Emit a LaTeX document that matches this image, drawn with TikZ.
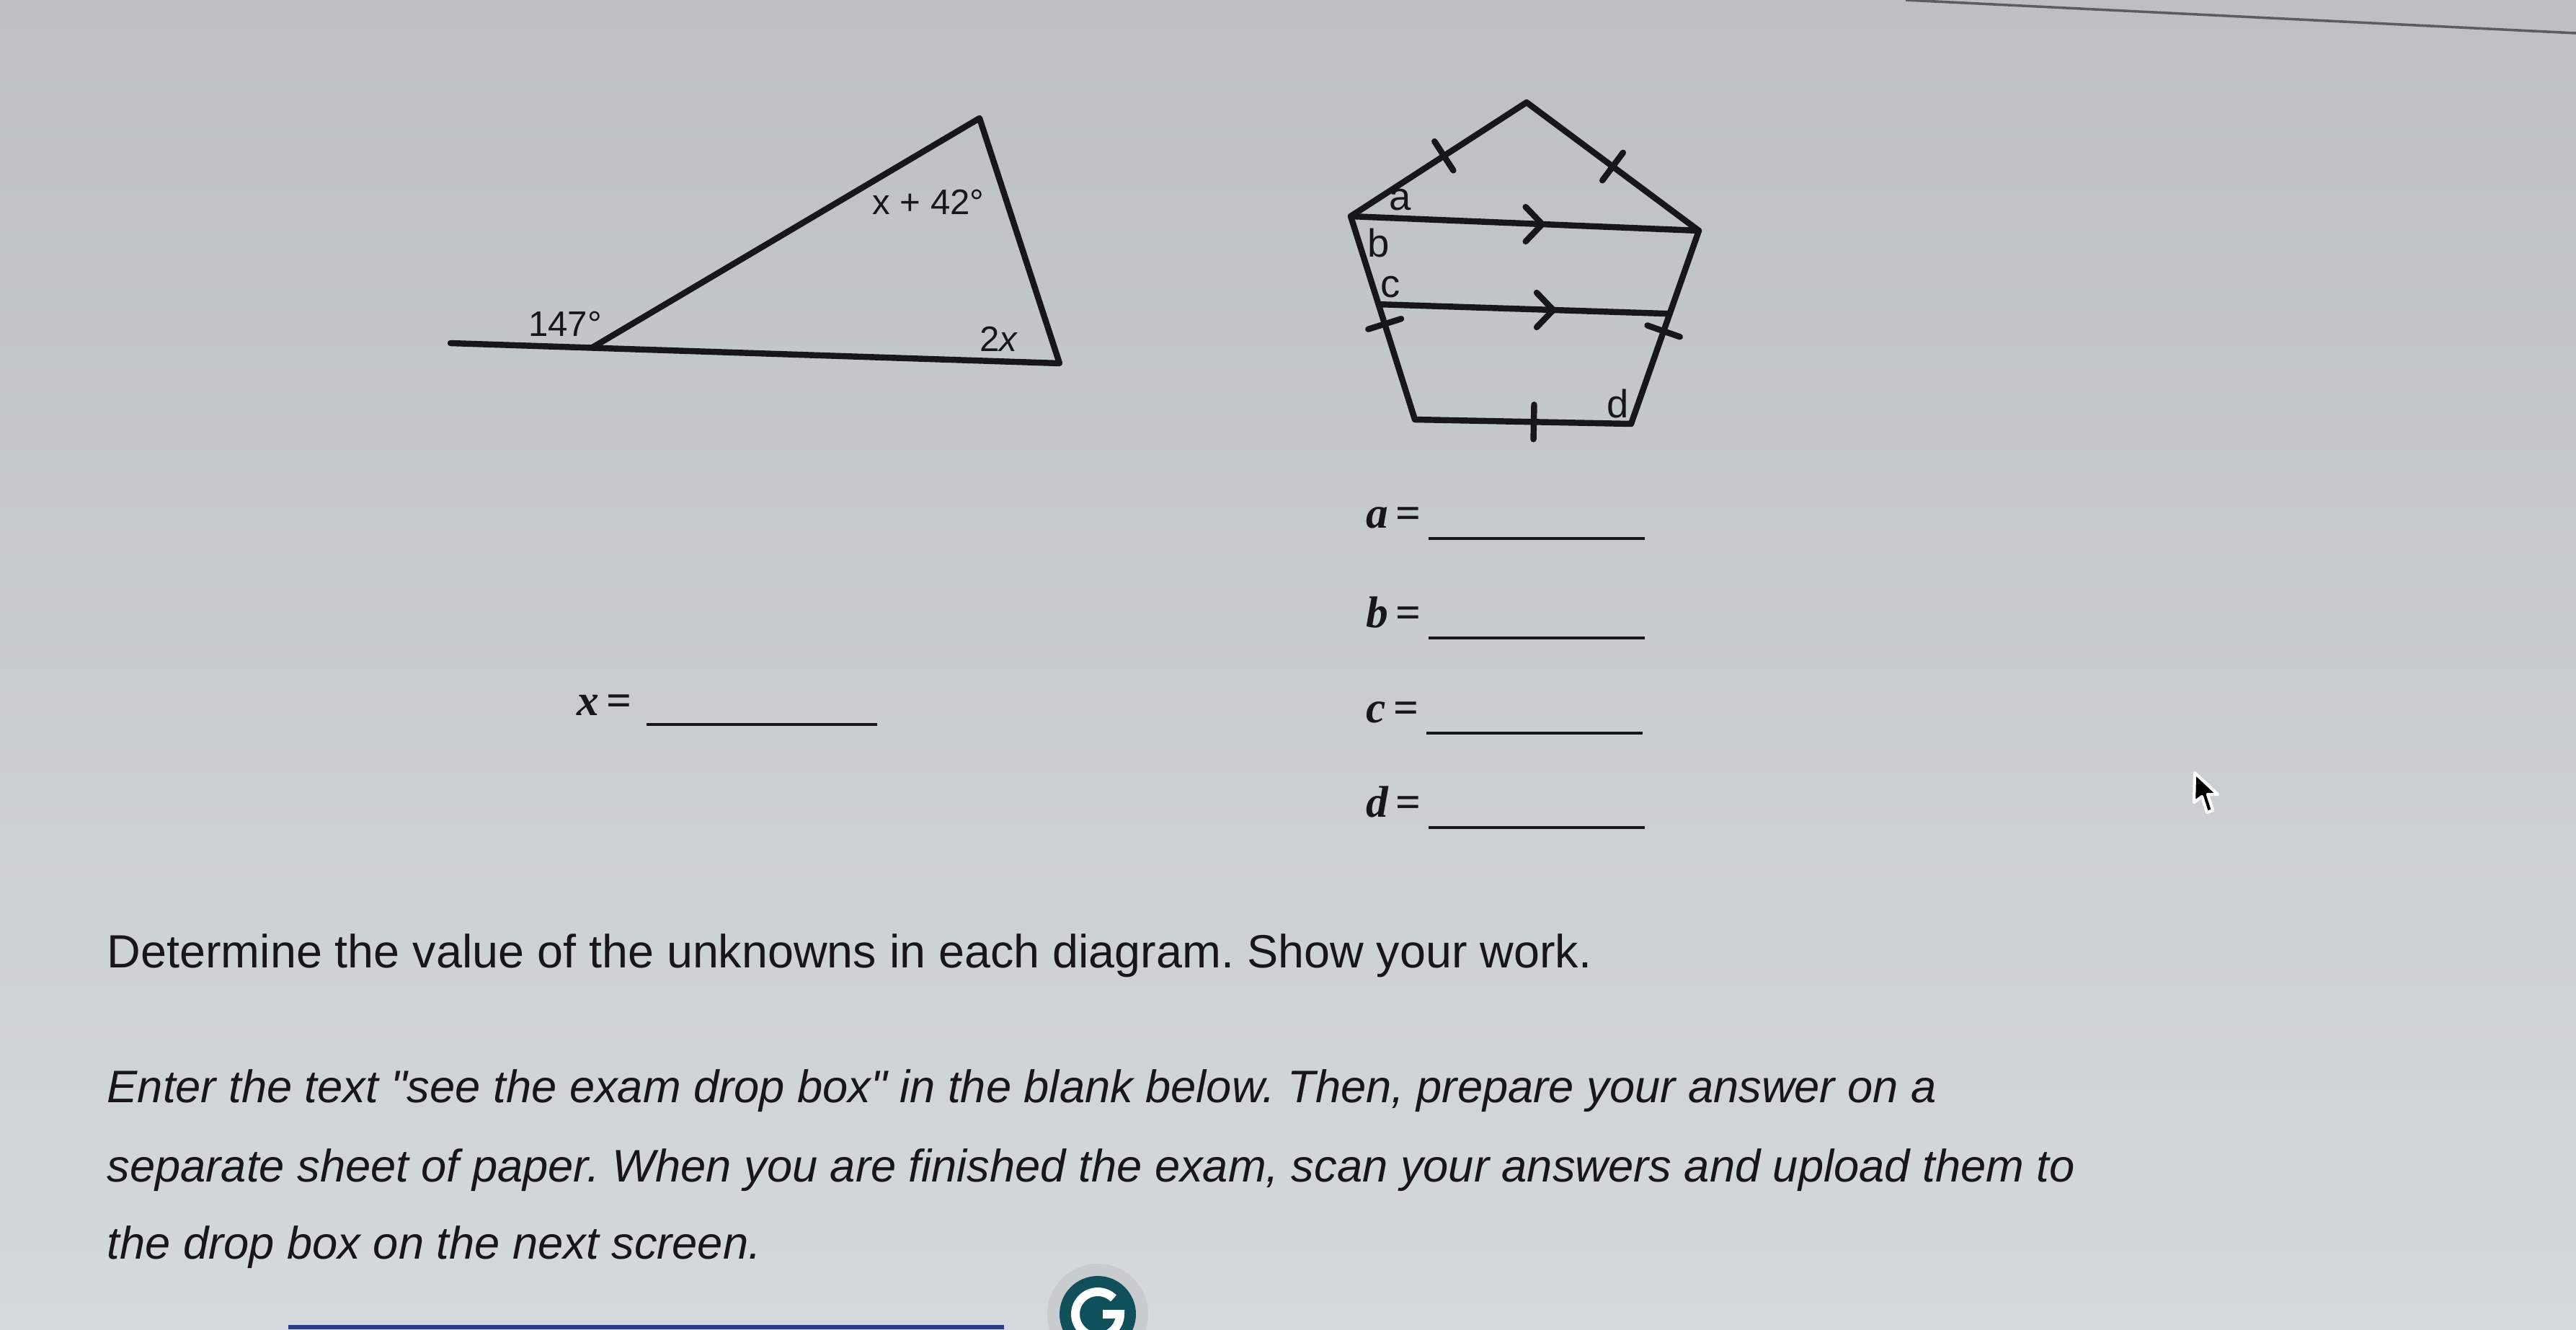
\documentclass[tikz,border=0pt]{standalone}
\usepackage{fontspec}
\setmainfont{Liberation Sans}
\newfontfamily\answerfont{Liberation Serif}
\usetikzlibrary{calc}
\frenchspacing
\definecolor{bgtop}{RGB}{188,192,194}
\definecolor{bgmid}{RGB}{218,223,227}
\definecolor{bgbot}{RGB}{212,217,221}
\definecolor{ink}{RGB}{22,22,28}
\definecolor{edgegray}{RGB}{90,94,98}
\definecolor{badge}{RGB}{16,80,90}
\definecolor{badgering}{RGB}{200,204,206}
\definecolor{barblue}{RGB}{40,62,140}
\begin{document}
\begin{tikzpicture}[
  fig line/.style={draw=ink,line width=2.4pt,line join=round,line cap=round},
  fig label/.style={font=\fontsize{14}{14}\selectfont,text=ink,inner sep=0pt},
  pent label/.style={font=\fontsize{15.5}{16}\selectfont,text=ink,inner sep=0pt},
  answer label/.style={font=\answerfont\bfseries\fontsize{17.5}{18}\selectfont,text=ink,inner sep=0pt,anchor=base west},
  blank/.style={draw=ink,line width=1.3pt},
  body text/.style={font=\fontsize{18.4}{19}\selectfont,text=ink,inner sep=0pt,anchor=base west},
  note text/.style={body text,font=\itshape\fontsize{18}{19}\selectfont}]

%background
\shade[top color=bgtop,middle color=bgmid,bottom color=bgbot] (0,0) rectangle (35.74,-18.44);
\useasboundingbox (0,0) rectangle (35.74,-18.44);
\draw[edgegray,line width=1pt] (26.44,0) -- (35.74,-0.46);

%triangle
\coordinate (T0) at (6.25,-4.76);
\coordinate (T3) at (14.70,-5.04);
\coordinate (T1) at ($(T0)!0.232!(T3)$);
\coordinate (T2) at (13.59,-1.64);
\draw[fig line] (T0) -- (T3) -- (T2) -- (T1);
\node[fig label] (ang1) at (7.84,-4.49) {147°};
\node[fig label] (ang2) at (12.88,-2.80) {x + 42°};
\node[fig label] (ang3) at (13.86,-4.70) {2\textit{x}};

%pentagon
\coordinate (P1) at (18.74,-3.00);
\coordinate (P2) at (21.18,-1.42);
\coordinate (P3) at (23.57,-3.20);
\coordinate (P4) at (22.63,-5.88);
\coordinate (P5) at (19.63,-5.82);
\draw[fig line] (P1) -- (P2) -- (P3) -- (P4) -- (P5) -- cycle;
\draw[fig line] (P1) -- (P3);
\coordinate (Q1) at ($(P1)!0.433!(P5)$);
\coordinate (Q2) at ($(P3)!0.43!(P4)$);
\draw[fig line] (Q1) -- (Q2);
%arrows
\foreach \u/\w/\t in {P1/P3/0.55, Q1/Q2/0.6}
  \draw[fig line] ($(\u)!\t!(\w)+(-0.23,0.24)$) -- ($(\u)!\t!(\w)$) -- ($(\u)!\t!(\w)+(-0.23,-0.24)$);
%ticks
\foreach \u/\w/\t in {P1/P2/0.53, P2/P3/0.5, P1/P5/0.53, P3/P4/0.52, P5/P4/0.55}
  \draw[fig line] ($(\u)!\t!(\w)!0.24cm!90:(\w)$) -- ($(\u)!\t!(\w)!0.24cm!-90:(\w)$);
\node[pent label] (la) at (19.43,-2.77) {a};
\node[pent label] (lb) at (19.13,-3.37) {b};
\node[pent label] (lc) at (19.29,-3.98) {c};
\node[pent label] (ld) at (22.45,-5.60) {d};

%answers
\node[answer label] (x) at (8.00,-9.92) {\itshape x\,\upshape=};
\draw[blank] ([shift={(0.2,-0.13)}]x.base east) -- ++(3.2,0);
\foreach \v/\y in {a/7.32,b/8.70,c/10.02,d/11.33}{
  \node[answer label] (\v) at (18.95,-\y) {\itshape\v\,\upshape=};
  \draw[blank] ([shift={(0.1,-0.15)}]\v.base east) -- ++(3.0,0);
}

%text
\node[body text] (q1) at (1.48,-13.42) {Determine the value of the unknowns in each diagram. Show your work.};
\node[note text] (q2) at (1.48,-15.29) {Enter the text \textquotedbl see the exam drop box\textquotedbl{} in the blank below. Then, prepare your answer on a};
\node[note text] (q3) at (1.48,-16.39) {separate sheet of paper. When you are finished the exam, scan your answers and upload them to};
\node[note text] (q4) at (1.48,-17.46) {the drop box on the next screen.};

%screen bits
\filldraw[fill=black,draw=white,line width=1.2pt,line join=round] (30.45,-10.72) -- (30.44,-11.13) -- (30.55,-11.05) -- (30.62,-11.27) -- (30.70,-11.24) -- (30.63,-11.02) -- (30.77,-11.02) -- cycle;
\fill[badgering] (15.23,-18.23) circle (0.70);
\fill[badge] (15.23,-18.23) circle (0.53);
\draw[white,line width=3.4pt] ($(15.23,-18.23)+(45:0.31)$) arc (45:360:0.31) -- ++(-0.24,0);
\fill[barblue] (4.0,-18.38) rectangle (13.93,-18.44);
\end{tikzpicture}
\end{document}
